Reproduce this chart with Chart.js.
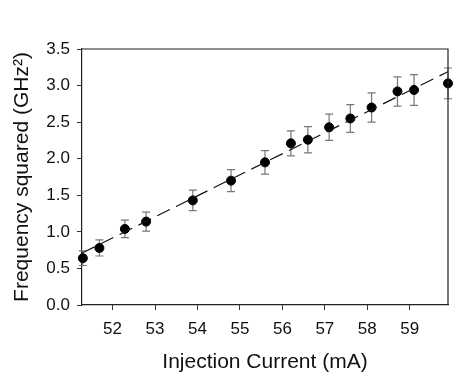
<!DOCTYPE html>
<html>
<head>
<meta charset="utf-8">
<script src="https://cdn.jsdelivr.net/npm/chart.js@4"></script>
<style>
  html, body { margin: 0; padding: 0; background: #fff; }
  #wrap { width: 474px; height: 377px; }
</style>
</head>
<body>
<div id="wrap"><canvas id="freqChart" width="474" height="377"></canvas></div>
<script>
// measured points (injection current mA, frequency squared GHz^2, error)
const current = [51.3, 51.69, 52.29, 52.79, 53.89, 54.79, 55.59, 56.2, 56.6, 57.1, 57.6, 58.1, 58.71, 59.1, 59.9];
const freqSq  = [0.64, 0.78, 1.04, 1.14, 1.43, 1.70, 1.95, 2.21, 2.26, 2.43, 2.55, 2.70, 2.92, 2.94, 3.03];
const errs    = [0.10, 0.11, 0.12, 0.13, 0.14, 0.15, 0.16, 0.17, 0.18, 0.18, 0.19, 0.20, 0.20, 0.21, 0.21];
// linear fit end points
const fitX = [51.28, 59.9];
const fitY = [0.71, 3.19];
const xTicks = [52, 53, 54, 55, 56, 57, 58, 59];
const yTicks = [0, 0.5, 1.0, 1.5, 2.0, 2.5, 3.0, 3.5];

const points = current.map((x, i) => ({ x: x, y: freqSq[i] }));
const fitLine = fitX.map((x, i) => ({ x: x, y: fitY[i] }));

const errorBars = {
  id: 'errorBars',
  beforeDatasetsDraw(chart) {
    const ctx = chart.ctx;
    const xs = chart.scales.x, ys = chart.scales.y;
    ctx.save();
    ctx.strokeStyle = '#777';
    ctx.lineWidth = 1.2;
    current.forEach((x, i) => {
      const px = xs.getPixelForValue(x);
      const top = ys.getPixelForValue(freqSq[i] + errs[i]);
      const bot = ys.getPixelForValue(freqSq[i] - errs[i]);
      ctx.beginPath();
      ctx.moveTo(px, top); ctx.lineTo(px, bot);
      ctx.moveTo(px - 4, top); ctx.lineTo(px + 4, top);
      ctx.moveTo(px - 4, bot); ctx.lineTo(px + 4, bot);
      ctx.stroke();
    });
    ctx.restore();
  },
  afterDraw(chart) {
    const a = chart.chartArea, ctx = chart.ctx;
    ctx.save();
    ctx.strokeStyle = '#222';
    ctx.lineWidth = 1.2;
    ctx.beginPath();
    ctx.moveTo(a.left, a.top); ctx.lineTo(a.right, a.top); ctx.lineTo(a.right, a.bottom);
    ctx.stroke();
    ctx.restore();
  }
};

const ctx = document.getElementById('freqChart').getContext('2d');
new Chart(ctx, {
  type: 'scatter',
  data: {
    datasets: [
      {
        label: 'fit',
        type: 'line',
        data: fitLine,
        borderColor: '#111',
        borderWidth: 1.2,
        borderDash: [14, 7],
        pointRadius: 0,
        fill: false
      },
      {
        label: 'data',
        data: points,
        backgroundColor: '#000',
        borderColor: '#000',
        pointRadius: 4.5,
        clip: false
      }
    ]
  },
  options: {
    responsive: false,
    animation: false,
    layout: { padding: { top: 49, right: 26, left: 0, bottom: 0 } },
    plugins: { legend: { display: false }, tooltip: { enabled: false } },
    scales: {
      x: {
        type: 'linear',
        min: 51.28,
        max: 59.9,
        afterBuildTicks: s => { s.ticks = xTicks.map(v => ({ value: v })); },
        afterFit: s => { s.height = 72; },
        grid: { drawOnChartArea: false, drawTicks: true, tickLength: 5, color: '#333' },
        border: { display: true, color: '#222', width: 1.2 },
        ticks: { color: '#111', font: { family: 'Liberation Sans', size: 17 }, padding: 9, maxRotation: 0 },
        title: { display: true, text: 'Injection Current (mA)', color: '#111', font: { family: 'Liberation Sans', size: 21 }, padding: { top: 2, bottom: 2 } }
      },
      y: {
        min: 0,
        max: 3.5,
        afterBuildTicks: s => { s.ticks = yTicks.map(v => ({ value: v })); },
        afterFit: s => { s.width = 82; },
        grid: { drawOnChartArea: false, drawTicks: true, tickLength: 5, color: '#333' },
        border: { display: true, color: '#222', width: 1.2 },
        ticks: { color: '#111', font: { family: 'Liberation Sans', size: 17 }, padding: 7, callback: v => v.toFixed(1) },
        title: { display: true, text: 'Frequency squared (GHz²)', color: '#111', font: { family: 'Liberation Sans', size: 21 }, padding: { top: 10, bottom: 10 } }
      }
    }
  },
  plugins: [errorBars]
});
</script>
</body>
</html>
